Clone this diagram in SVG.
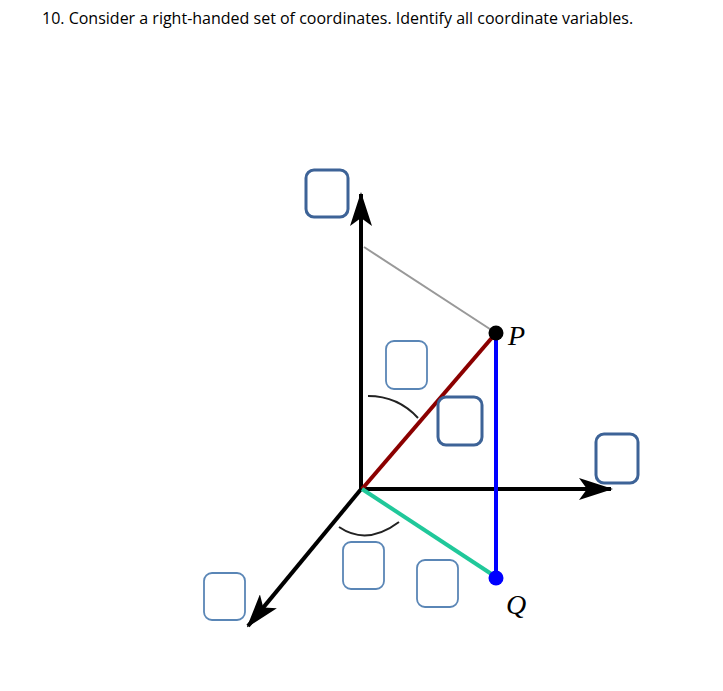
<svg xmlns="http://www.w3.org/2000/svg" width="723" height="691" viewBox="0 0 723 691">
<style>
.bd{fill:#fff;stroke:#3d6397;stroke-width:3}
.bl{fill:#fff;stroke:#5a86b6;stroke-width:1.8}
.ax{stroke:#000;stroke-width:4;fill:none}
.lbl{font-family:"Liberation Serif",serif;font-style:italic;font-size:28px}
</style>
<defs>
<marker id="ah" viewBox="0 0 34 22" refX="32" refY="11" markerWidth="8.5" markerHeight="5.5" markerUnits="strokeWidth" orient="auto">
<path d="M0,0 L34,11 L0,22 L8,11 Z" fill="#000"/>
</marker>
</defs>
<rect width="723" height="691" fill="#fff"/>
<text x="42" y="24" font-family="Open Sans,Liberation Sans,sans-serif" font-size="16" fill="#000">10.  Consider a right-handed set of coordinates. Identify all coordinate variables.</text>
<g id="connectors">
<line x1="364" y1="247" x2="496" y2="333" stroke="#999" stroke-width="2"/>
<line class="ax" x1="361" y1="491" x2="361" y2="194" marker-end="url(#ah)"/>
<line class="ax" x1="359" y1="489" x2="611" y2="489" marker-end="url(#ah)"/>
<line class="ax" x1="362" y1="488" x2="248" y2="626" marker-end="url(#ah)"/>
<line x1="362" y1="489" x2="496" y2="333" stroke="#8b0000" stroke-width="4"/>
<line x1="496" y1="333" x2="496" y2="578" stroke="#0000ff" stroke-width="4"/>
<line x1="362" y1="489" x2="496" y2="577" stroke="#20c89a" stroke-width="4"/>
<path d="M368,396 Q398,396 418,418" stroke="#222" stroke-width="2" fill="none"/>
<path d="M339,527 Q367,546 399,522" stroke="#222" stroke-width="2" fill="none"/>
</g>
<g id="P"><circle cx="496" cy="333" r="7.5" fill="#000"/><text class="lbl" x="508" y="345">P</text></g>
<g id="Q"><circle cx="496" cy="578" r="7.5" fill="#0000ff"/><text class="lbl" x="506" y="614">Q</text></g>
<g id="box-z"><rect class="bd" x="306" y="170" width="42" height="47" rx="8"/></g>
<g id="box-phi"><rect class="bl" x="386" y="341" width="41" height="48" rx="8"/></g>
<g id="box-r"><rect class="bd" x="438" y="397" width="44" height="48" rx="8"/></g>
<g id="box-y"><rect class="bd" x="596" y="434" width="42" height="49" rx="8"/></g>
<g id="box-x"><rect class="bl" x="204" y="573" width="41" height="47" rx="8"/></g>
<g id="box-theta"><rect class="bl" x="343" y="542" width="41" height="47" rx="8"/></g>
<g id="box-rho"><rect class="bl" x="417" y="560" width="41" height="47" rx="8"/></g>
</svg>
